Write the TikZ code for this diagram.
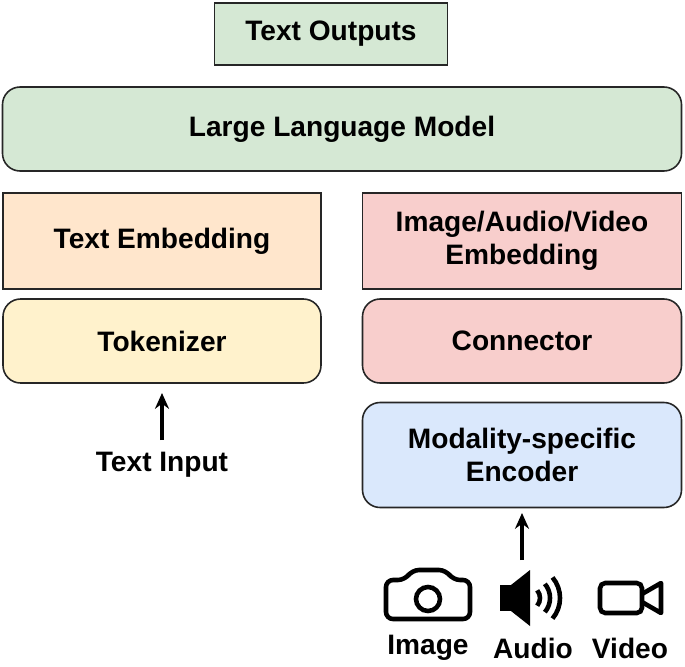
\documentclass[tikz,border=0pt]{standalone}
\usepackage{fontspec}
\setmainfont{Liberation Sans}
\usetikzlibrary{positioning, arrows.meta, calc}
\definecolor{llmGreen}{HTML}{D5E8D4}
\definecolor{embOrange}{HTML}{FFE6CC}
\definecolor{modPink}{HTML}{F8CECC}
\definecolor{tokYellow}{HTML}{FFF2CC}
\definecolor{encBlue}{HTML}{DAE8FC}
\tikzset{
  block/.style={draw=black!85, line width=0.9pt, align=center, inner sep=0pt,
    font=\fontsize{16}{19}\selectfont\bfseries},
  roundblock/.style={block, rounded corners=10pt},
  label/.style={align=center, font=\fontsize{16}{19}\selectfont\bfseries},
  upArrow/.style={-{Stealth[length=9pt,width=8pt]}, line width=2pt}
}
\begin{document}
\begin{tikzpicture}[x=0.02cm, y=-0.02cm]
\useasboundingbox (0,0) rectangle (685,666);

\node (outputs) [block, fill=llmGreen, minimum width=233*0.02cm, minimum height=62*0.02cm] at (331,34) {Text Outputs};
\node (llm) [roundblock, fill=llmGreen, minimum width=679*0.02cm, minimum height=84*0.02cm] at (342,129) {Large Language Model};

\node (textEmb) [block, fill=embOrange, minimum width=318*0.02cm, minimum height=96*0.02cm] at (162,241) {Text Embedding};
\node (mediaEmb) [block, fill=modPink, minimum width=319*0.02cm, minimum height=96*0.02cm] at (522,241) {Image/Audio/Video\\Embedding};

\node (tokenizer) [roundblock, fill=tokYellow, minimum width=318*0.02cm, minimum height=84*0.02cm] at (162,341) {Tokenizer};
\node (connector) [roundblock, fill=modPink, minimum width=319*0.02cm, minimum height=84*0.02cm] at (522,341) {Connector};

\node (encoder) [roundblock, fill=encBlue, minimum width=319*0.02cm, minimum height=105*0.02cm] at (522,455) {Modality-specific\\Encoder};

\node (textIn) [label] at (162,465) {Text Input};
\coordinate (textTip) at (162,393);
\draw[upArrow] (162,440) -- (textTip);

% icons
\coordinate (iconsTop) at (522,560);
\draw[upArrow] (iconsTop) -- (522,513);

% camera
\draw[line width=2.6pt, rounded corners=4pt] (386,580) -- (405,580) -- (412,570) -- (446,570) -- (453,580) -- (470,580) -- (470,619) -- (386,619) -- cycle;
\draw[line width=2.6pt] (428,599) circle (12);
% speaker
\fill (500,585) rectangle (513,611);
\fill (511,585) -- (530,570) -- (530,626) -- (511,611) -- cycle;
\coordinate (spk) at (528,598);
\foreach \r in {12,22,32}
  \draw[line width=2.6pt] ([shift={(-40:\r)}]spk) arc (-40:40:\r);
% video camera
\draw[line width=2.6pt, rounded corners=3pt] (600,583) rectangle (642,613);
\draw[line width=2.6pt, line join=round] (642,594) -- (661,583) -- (661,613) -- (642,602);

\node (imgLabel) [label] at (428,648) {Image};
\node (audLabel) [label] at (533,648) {Audio};
\node (vidLabel) [label] at (630,648) {Video};
\end{tikzpicture}
\end{document}
